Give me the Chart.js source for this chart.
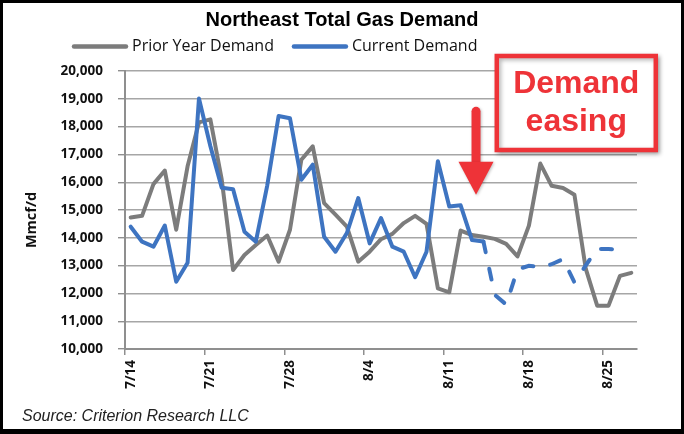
<!DOCTYPE html>
<html>
<head>
<meta charset="utf-8">
<title>Northeast Total Gas Demand</title>
<script src="https://cdn.jsdelivr.net/npm/chart.js@4.4.0/dist/chart.umd.min.js"></script>
<style>
  html, body { margin: 0; padding: 0; background: #000; }
  #wrap { width: 684px; height: 434px; }
</style>
</head>
<body>
<div id="wrap"><canvas id="chart" width="684" height="434"></canvas></div>
<script>
// ── Data (Mmcf/d) ───────────────────────────────────────────────────────────
const DATES = [
  "7/14", "7/15", "7/16", "7/17", "7/18", "7/19", "7/20", "7/21", "7/22", "7/23",
  "7/24", "7/25", "7/26", "7/27", "7/28", "7/29", "7/30", "7/31", "8/1", "8/2",
  "8/3", "8/4", "8/5", "8/6", "8/7", "8/8", "8/9", "8/10", "8/11", "8/12",
  "8/13", "8/14", "8/15", "8/16", "8/17", "8/18", "8/19", "8/20", "8/21", "8/22",
  "8/23", "8/24", "8/25", "8/26", "8/27"
];

const PRIOR_YEAR = [
  14730, 14790, 15930, 16420, 14290, 16570, 18150, 18260, 16100, 12840,
  13380, 13740, 14080, 13140, 14290, 16810, 17290, 15250, 14830, 14400,
  13140, 13500, 13950, 14140, 14530, 14790, 14500, 12180, 12040, 14260,
  14100, 14040, 13960, 13780, 13330, 14440, 16670, 15870, 15790, 15550,
  12880, 11560, 11560, 12630, 12740
];

const CURRENT = [
  14400, 13860, 13680, 14440, 12420, 13100, 19010, 17300, 15800, 15750,
  14220, 13860, 15880, 18380, 18300, 16090, 16630, 14040, 13500, 14170,
  15430, 13800, 14710, 13680, 13500, 12580, 13500, 16750, 15130, 15170,
  13920, 13870
];

// projected part of current demand, starts at the last actual day (8/14)
const FORECAST_FROM = "8/14";
const FORECAST = [
  13870, 11950, 11600, 12870, 12990, 12950, 13050, 13230, 12400, 13010,
  13600, 13600, 13560
];

const Y_MIN = 10000, Y_MAX = 20000, Y_STEP = 1000;
const TICK_EVERY = 7;

// ── Styles ──────────────────────────────────────────────────────────────────
const GRAY = "#7c7c7c";
const BLUE = "#3e74c1";
const RED = "#ee3338";
const AXIS = "#8f8f8f";
const INK = "#111111";
const SANS = "'Open Sans', 'DejaVu Sans', sans-serif";
const ARIAL = "'Liberation Sans', Arial, sans-serif";

// pad series out to the full date range
const fStart = DATES.indexOf(FORECAST_FROM);
const currentSeries = DATES.map((_, i) => (i < CURRENT.length ? CURRENT[i] : null));
const forecastSeries = DATES.map((_, i) => {
  const k = i - fStart;
  return k >= 0 && k < FORECAST.length ? FORECAST[k] : null;
});

// ── Frame, title, legend, axis title, source and callout ───────────────────
const decor = {
  id: "decor",
  beforeDraw(chart) {
    const c = chart.ctx;
    c.save();
    c.fillStyle = "#000";
    c.fillRect(0, 0, chart.width, chart.height);
    c.fillStyle = "#fff";
    c.fillRect(3, 3, chart.width - 6, chart.height - 8);
    c.restore();
  },
  afterDraw(chart) {
    const c = chart.ctx;
    const { x: xs, y: ys } = chart.scales;
    const area = chart.chartArea;
    c.save();

    // title
    c.fillStyle = "#000";
    c.font = `bold 20px ${ARIAL}`;
    c.textAlign = "center";
    c.textBaseline = "middle";
    c.fillText("Northeast Total Gas Demand", chart.width / 2, 20);

    // legend (actual series only)
    const legendItems = [chart.data.datasets[2], chart.data.datasets[0]];
    let lx = 72;
    const ly = 46.5;
    c.font = `16px ${SANS}`;
    c.textAlign = "left";
    c.lineCap = "round";
    legendItems.forEach(ds => {
      c.strokeStyle = ds.borderColor;
      c.lineWidth = 4.5;
      c.beginPath(); c.moveTo(lx + 2, ly); c.lineTo(lx + 54, ly); c.stroke();
      c.fillStyle = INK;
      c.fillText(ds.label, lx + 60, ly);
      lx += 60 + c.measureText(ds.label).width + 18;
    });

    // y axis title
    c.save();
    c.translate(32, 220);
    c.rotate(-Math.PI / 2);
    c.font = `bold 14.5px ${SANS}`;
    c.textAlign = "center";
    c.fillStyle = INK;
    c.fillText("Mmcf/d", 0, 0);
    c.restore();

    // source
    c.font = `italic 16px ${ARIAL}`;
    c.fillStyle = "#222";
    c.textAlign = "left";
    c.fillText("Source: Criterion Research LLC", 22, 417);

    // callout box
    const bx = xs.getPixelForValue(fStart + 1) + 2, by = 56, bw = 159, bh = 94;
    c.shadowColor = "rgba(0,0,0,0.3)";
    c.shadowBlur = 4;
    c.shadowOffsetX = 2;
    c.shadowOffsetY = 2;
    c.fillStyle = "#fff";
    c.fillRect(bx, by, bw, bh);
    c.strokeStyle = RED;
    c.lineWidth = 4.5;
    c.strokeRect(bx, by, bw, bh);
    c.shadowColor = "transparent";
    c.fillStyle = RED;
    c.font = `bold 32px ${ARIAL}`;
    c.textAlign = "center";
    c.fillText("Demand", bx + bw / 2, by + 28);
    c.fillText("easing", bx + bw / 2, by + 66);

    // arrow pointing down at the turn
    const ax = xs.getPixelForValue(fStart - 1) + 4;
    const aTop = ys.getPixelForValue(18550);
    const aTip = ys.getPixelForValue(15550);
    c.shadowColor = "rgba(0,0,0,0.25)";
    c.shadowBlur = 3;
    c.shadowOffsetX = 1;
    c.shadowOffsetY = 1;
    c.strokeStyle = RED;
    c.lineWidth = 9;
    c.lineCap = "round";
    c.beginPath(); c.moveTo(ax, aTop); c.lineTo(ax, aTip - 28); c.stroke();
    c.beginPath();
    c.moveTo(ax - 17.5, aTip - 33);
    c.lineTo(ax + 17.5, aTip - 33);
    c.lineTo(ax, aTip);
    c.closePath();
    c.fill();

    c.restore();
  }
};

// ── Chart ───────────────────────────────────────────────────────────────────
const tickFont = { family: SANS, size: 13.5, weight: "bold" };

new Chart(document.getElementById("chart"), {
  type: "line",
  data: {
    labels: DATES,
    datasets: [
      {
        label: "Current Demand",
        data: currentSeries,
        borderColor: BLUE,
        borderWidth: 4,
        borderJoinStyle: "round",
        borderCapStyle: "round",
        pointRadius: 0,
        tension: 0,
        order: 1
      },
      {
        label: "Current Demand (projected)",
        data: forecastSeries,
        borderColor: BLUE,
        borderWidth: 4,
        borderDash: [11, 17],
        borderCapStyle: "round",
        pointRadius: 0,
        tension: 0,
        order: 1
      },
      {
        label: "Prior Year Demand",
        data: PRIOR_YEAR,
        borderColor: GRAY,
        borderWidth: 4,
        borderJoinStyle: "round",
        borderCapStyle: "round",
        pointRadius: 0,
        tension: 0,
        order: 2
      }
    ]
  },
  options: {
    responsive: false,
    animation: false,
    layout: { padding: { top: 71, right: 47, bottom: 0, left: 0 } },
    plugins: {
      legend: { display: false },
      title: { display: false },
      tooltip: { enabled: false }
    },
    scales: {
      x: {
        offset: true,
        grid: {
          offset: true,
          drawOnChartArea: false,
          tickLength: 6,
          lineWidth: 1.5,
          tickColor: ctx => (ctx.index % TICK_EVERY === 0 ? AXIS : "rgba(0,0,0,0)")
        },
        border: { color: AXIS, width: 2 },
        ticks: {
          autoSkip: false,
          minRotation: 90,
          maxRotation: 90,
          padding: 5,
          color: INK,
          font: tickFont,
          callback(v, i) {
            return i % TICK_EVERY === 0 ? this.getLabelForValue(v) : "";
          }
        },
        afterFit(scale) { scale.height = 85; }
      },
      y: {
        min: Y_MIN,
        max: Y_MAX,
        grid: { color: "#a6a6a6", lineWidth: 1.4, tickLength: 7, tickColor: AXIS },
        border: { color: AXIS, width: 2 },
        ticks: {
          stepSize: Y_STEP,
          padding: 15,
          color: INK,
          font: tickFont,
          callback: v => v.toLocaleString("en-US")
        },
        afterFit(scale) { scale.width = 125; }
      }
    }
  },
  plugins: [decor]
});
</script>
</body>
</html>
